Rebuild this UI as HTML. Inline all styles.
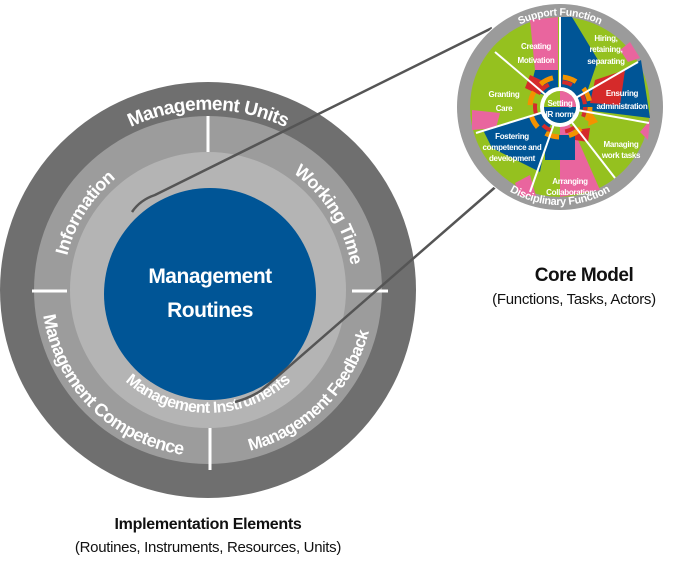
<!DOCTYPE html>
<html><head><meta charset="utf-8"><style>
html,body{margin:0;padding:0;background:#fff;}
svg{display:block;}
text{font-family:"Liberation Sans Narrow","Liberation Sans",sans-serif;font-weight:bold;}
</style></head><body>
<svg width="685" height="564" viewBox="0 0 685 564" xmlns="http://www.w3.org/2000/svg">
<defs>
<path id="pU" d="M52,200 A180,180 0 0,1 364,200"/>
<path id="pI" d="M65,315 A145,145 0 0,1 168,151"/>
<path id="pW" d="M248,151 A145,145 0 0,1 351,315"/>
<path id="pC" d="M64,207 A166,166 0 0,0 291,434"/>
<path id="pN" d="M86,311 A124,124 0 0,0 330,311"/>
<path id="pF" d="M151,446 A166,166 0 0,0 364,233"/>
<path id="pS" d="M480,61 A93,93 0 0,1 640,61"/>
<path id="pD" d="M467,140 A99,99 0 0,0 653,140"/>
</defs>
<!-- big circle -->
<circle cx="208" cy="290" r="208" fill="#6f6f6f"/>
<circle cx="208" cy="290" r="174" fill="#9c9c9c"/>
<circle cx="208" cy="290" r="138" fill="#b4b4b4"/>
<g stroke="#fff" stroke-width="3">
<line x1="208" y1="116" x2="208" y2="152"/>
<line x1="32" y1="291" x2="67" y2="291"/>
<line x1="352" y1="291" x2="388" y2="291"/>
<line x1="210" y1="428" x2="210" y2="470"/>
</g>
<circle cx="210" cy="294" r="106" fill="#005596"/>
<text x="210" y="283" fill="#fff" font-size="21" text-anchor="middle" letter-spacing="-0.5">Management</text>
<text x="210" y="317" fill="#fff" font-size="21" text-anchor="middle" letter-spacing="-0.5">Routines</text>
<g fill="#fff" letter-spacing="-0.6">
<text font-size="19"><textPath href="#pU" startOffset="50%" text-anchor="middle">Management Units</textPath></text>
<text font-size="18"><textPath href="#pI" startOffset="50%" text-anchor="middle">Information</textPath></text>
<text font-size="18"><textPath href="#pW" startOffset="50%" text-anchor="middle">Working Time</textPath></text>
<text font-size="18"><textPath href="#pC" startOffset="50%" text-anchor="middle">Management Competence</textPath></text>
<text font-size="16"><textPath href="#pN" startOffset="50%" text-anchor="middle">Management Instruments</textPath></text>
<text font-size="17"><textPath href="#pF" startOffset="50%" text-anchor="middle">Management Feedback</textPath></text>
</g>
<!-- connectors -->
<path d="M132,212 Q140,200 155,195 L492,28" fill="none" stroke="#555" stroke-width="2.5"/>
<path d="M235,402 Q250,398 262,390 L500,183" fill="none" stroke="#555" stroke-width="2.5"/>
<!-- small circle -->
<circle cx="560" cy="107" r="104" fill="#fff"/>
<circle cx="560" cy="107" r="103" fill="#9b9b9b"/>
<circle cx="560" cy="107" r="90" fill="#95c11f"/>
<g>
<path d="M560,107 L560,17 L572,17 L598,60 L586,95 Z" fill="#005596"/>
<path d="M630,42 L640,58 L628,62 L620,50 Z" fill="#e9659e"/>
<path d="M560,107 L641,60 L650,118 L585,110 Z" fill="#005596"/>
<path d="M595,80 L625,70 L620,105 L590,103 Z" fill="#d52a2a"/>
<path d="M640,132 L650,120 L648,140 Z" fill="#e9659e"/>
<path d="M560,107 L560,197 L600,190 L578,140 Z" fill="#e9659e"/>
<path d="M545,135 L575,135 L575,160 L545,160 Z" fill="#005596"/>
<path d="M560,107 L483,130 L492,148 L540,172 L548,130 Z" fill="#005596"/>
<path d="M515,183 L530,175 L536,196 L520,196 Z" fill="#e9659e"/>
<path d="M472,110 L500,113 L496,128 L472,130 Z" fill="#e9659e"/>
<path d="M530,20 L558,17 L558,75 L535,70 Z" fill="#e9659e"/>
<path d="M558,70 L558,100 L530,90 L535,70 Z" fill="#005596"/>
<path d="M530,75 L545,82 L540,95 L525,88 Z" fill="#d52a2a"/>
<path d="M575,130 L590,128 L588,142 L575,140 Z" fill="#d52a2a"/>
<path d="M590,110 L598,122 L588,126 Z" fill="#f39200"/>
</g>
<circle cx="560" cy="107" r="30" fill="none" stroke="#f39200" stroke-width="5" stroke-dasharray="14 10"/>
<circle cx="560" cy="107" r="25" fill="none" stroke="#d52a2a" stroke-width="4" stroke-dasharray="10 14"/>
<g stroke="#fff" stroke-width="2">
<line x1="560" y1="107" x2="560" y2="17"/>
<line x1="560" y1="107" x2="638" y2="62"/>
<line x1="560" y1="107" x2="649" y2="123"/>
<line x1="560" y1="107" x2="615" y2="178"/>
<line x1="560" y1="107" x2="530" y2="192"/>
<line x1="560" y1="107" x2="476" y2="133"/>
<line x1="560" y1="107" x2="495" y2="52"/>
</g>
<circle cx="560" cy="107" r="20" fill="#fff"/>
<circle cx="560" cy="107" r="16" fill="#95c11f"/>
<path d="M560,91 A16,16 0 0,1 576,107 L560,107 Z" fill="#e9659e"/>
<path d="M544,107 A16,16 0 0,0 576,107 Z" fill="#005596"/>
<g fill="#fff" font-size="8" text-anchor="middle" letter-spacing="-0.3">
<text x="560" y="106">Setting</text><text x="560" y="117">HR norms</text>
<text x="536" y="49">Creating</text><text x="536" y="63">Motivation</text>
<text x="606" y="41">Hiring,</text><text x="606" y="52">retaining,</text><text x="606" y="64">separating</text>
<text x="622" y="96">Ensuring</text><text x="622" y="109">administration</text>
<text x="621" y="147">Managing</text><text x="621" y="158">work tasks</text>
<text x="570" y="184">Arranging</text><text x="570" y="195">Collaboration</text>
<text x="512" y="139">Fostering</text><text x="512" y="150">competence and</text><text x="512" y="161">development</text>
<text x="504" y="97">Granting</text><text x="504" y="111">Care</text>
</g>
<g fill="#fff" letter-spacing="-0.3">
<text font-size="10.5"><textPath href="#pS" startOffset="50%" text-anchor="middle">Support Function</textPath></text>
<text font-size="11"><textPath href="#pD" startOffset="50%" text-anchor="middle">Disciplinary Function</textPath></text>
</g>
<!-- captions -->
<text x="584" y="281" font-size="19" text-anchor="middle" fill="#111" letter-spacing="-0.5">Core Model</text>
<text x="574" y="304" font-size="15" text-anchor="middle" fill="#111" style="font-weight:normal" letter-spacing="-0.3">(Functions, Tasks, Actors)</text>
<text x="208" y="529" font-size="16" text-anchor="middle" fill="#111" letter-spacing="-0.3">Implementation Elements</text>
<text x="208" y="552" font-size="15" text-anchor="middle" fill="#111" style="font-weight:normal" letter-spacing="-0.3">(Routines, Instruments, Resources, Units)</text>
</svg>
</body></html>
